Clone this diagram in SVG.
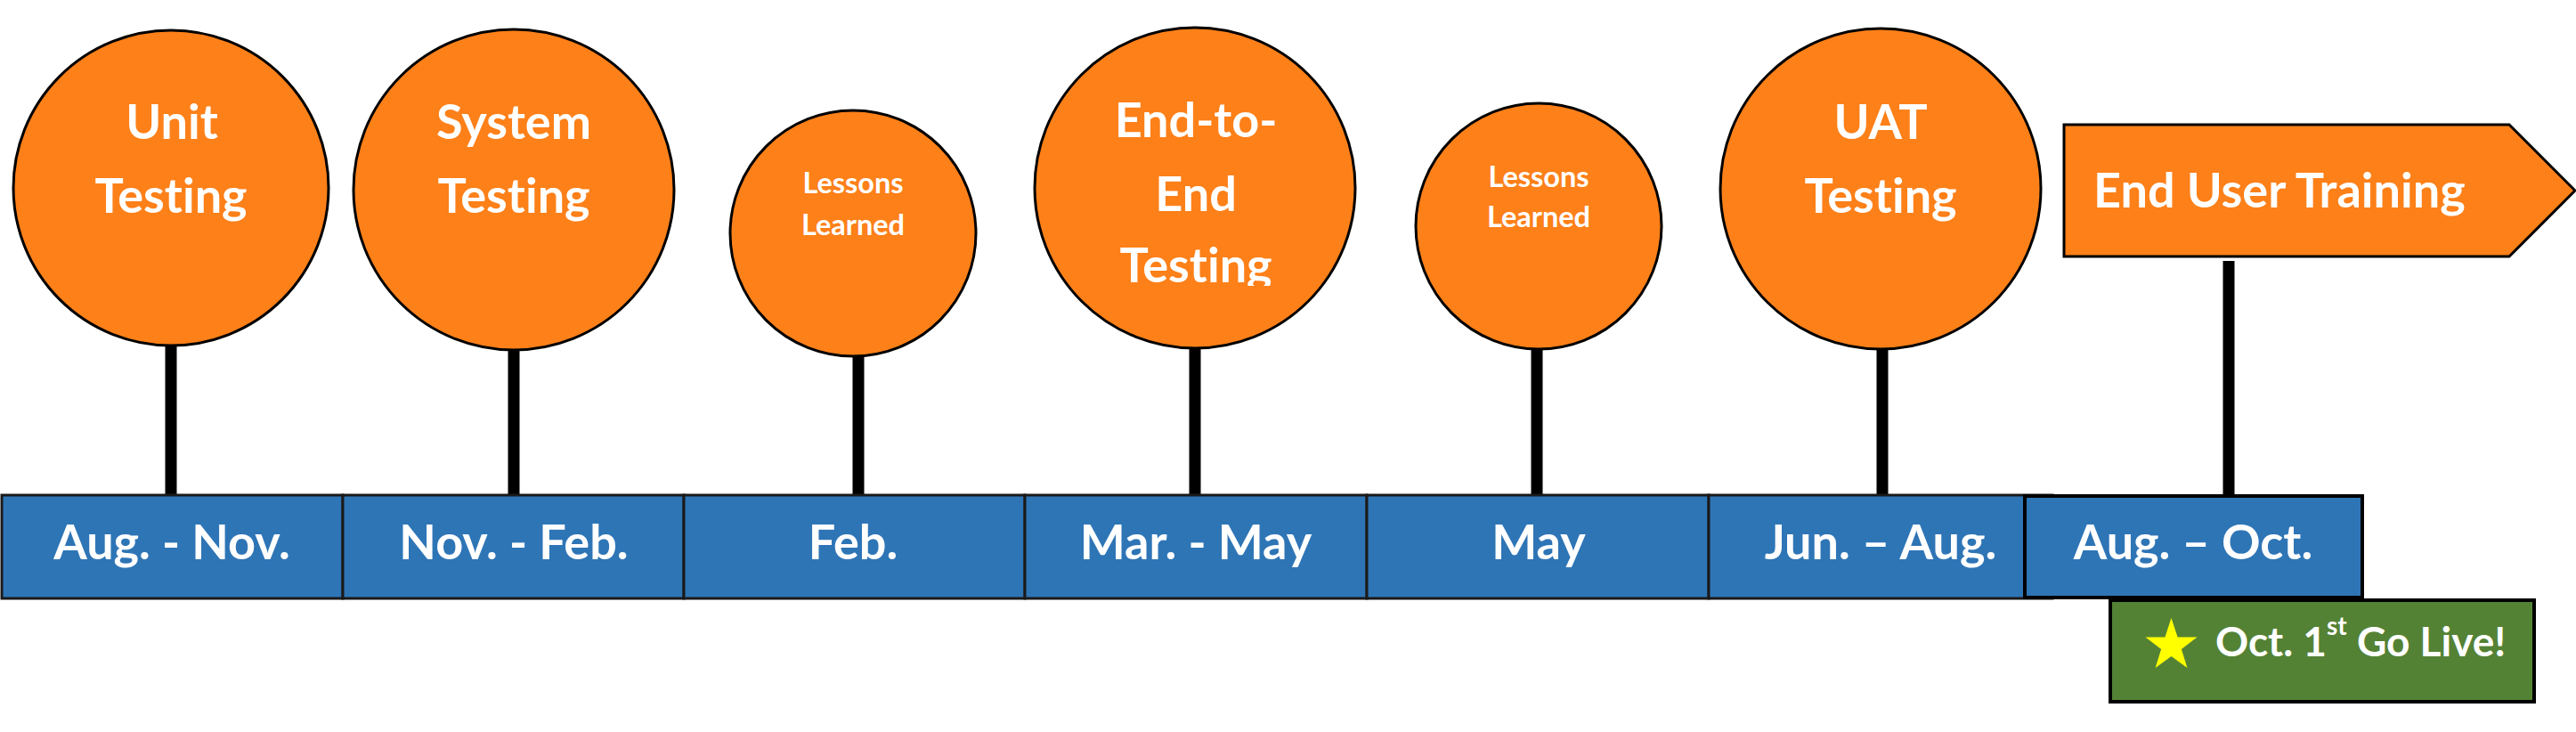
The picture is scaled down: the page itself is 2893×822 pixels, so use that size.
<svg xmlns="http://www.w3.org/2000/svg" width="2893" height="822" viewBox="0 0 2893 822">
<style>
.bub{fill:#FD8019;stroke:#000;stroke-width:3}
.box{fill:#2E75B6;stroke:#1a1a1a;stroke-width:3}
.stem{stroke:#000;stroke-width:13;fill:none}
.t{font-family:Lato,"Liberation Sans",sans-serif;font-weight:bold;fill:#fff;text-anchor:middle;font-size:54px;font-variant-ligatures:none;font-feature-settings:"liga" 0,"clig" 0,"dlig" 0}
.s{font-size:32.5px}
</style>
<defs>
<clipPath id="clipE2E"><rect x="1150" y="0" width="400" height="321"/></clipPath>
</defs>
<rect width="2893" height="822" fill="#fff"/>
<g id="connectors">
<line class="stem" x1="192" y1="385" x2="192" y2="557"/>
<line class="stem" x1="577" y1="390" x2="577" y2="557"/>
<line class="stem" x1="964" y1="397" x2="964" y2="557"/>
<line class="stem" x1="1342" y1="388" x2="1342" y2="557"/>
<line class="stem" x1="1726" y1="389" x2="1726" y2="557"/>
<line class="stem" x1="2114" y1="389" x2="2114" y2="557"/>
<line class="stem" x1="2503" y1="293" x2="2503" y2="557"/>
</g>
<g id="unit-testing">
<circle class="bub" cx="192" cy="211" r="177"/>
<text class="t" x="193" y="156">Unit</text>
<text class="t" x="192" y="239">Testing</text>
</g>
<g id="system-testing">
<circle class="bub" cx="577" cy="213" r="180"/>
<text class="t" x="577" y="156">System</text>
<text class="t" x="577" y="239">Testing</text>
</g>
<g id="lessons-1">
<circle class="bub" cx="958" cy="262" r="138"/>
<text class="t s" x="958" y="217">Lessons</text>
<text class="t s" x="958" y="264">Learned</text>
</g>
<g id="end-to-end">
<circle class="bub" cx="1342" cy="211" r="180"/>
<g clip-path="url(#clipE2E)">
<text class="t" x="1343" y="154">End-to-</text>
<text class="t" x="1343" y="237">End</text>
<text class="t" x="1343" y="317">Testing</text>
</g>
</g>
<g id="lessons-2">
<circle class="bub" cx="1728" cy="254" r="138"/>
<text class="t s" x="1728" y="210">Lessons</text>
<text class="t s" x="1728" y="255">Learned</text>
</g>
<g id="uat-testing">
<circle class="bub" cx="2112" cy="212" r="180"/>
<text class="t" x="2112" y="156">UAT</text>
<text class="t" x="2112" y="239">Testing</text>
</g>
<g id="end-user-training">
<polygon points="2318,140 2818,140 2892,214 2818,288 2318,288" fill="#FD8019" stroke="#000" stroke-width="3"/>
<text class="t" x="2351" y="233" style="text-anchor:start;font-size:54px">End User Training</text>
</g>
<g id="period-1"><rect class="box" x="2" y="556" width="383" height="116"/><text class="t" x="193" y="628">Aug. - Nov.</text></g>
<g id="period-2"><rect class="box" x="385" y="556" width="383" height="116"/><text class="t" x="577" y="628">Nov. - Feb.</text></g>
<g id="period-3"><rect class="box" x="768" y="556" width="383" height="116"/><text class="t" x="958" y="628">Feb.</text></g>
<g id="period-4"><rect class="box" x="1151" y="556" width="384" height="116"/><text class="t" x="1343" y="628">Mar. - May</text></g>
<g id="period-5"><rect class="box" x="1535" y="556" width="384" height="116"/><text class="t" x="1728" y="628">May</text></g>
<g id="period-6"><rect class="box" x="1919" y="556" width="386" height="116"/><text class="t" x="2112" y="628">Jun. – Aug.</text></g>
<g id="period-7"><rect class="box" x="2274" y="557" width="379" height="114" style="stroke:#000;stroke-width:4"/><text class="t" x="2463" y="628">Aug. – Oct.</text></g>
<g id="go-live">
<rect x="2370" y="674" width="476" height="114" fill="#548235" stroke="#000" stroke-width="4"/>
<polygon points="2438.5,694 2445.6,715.6 2467.5,715.6 2449.9,728.9 2456.4,750 2438.5,737 2420.6,750 2427.1,728.9 2409.5,715.6 2431.4,715.6" fill="#FFFF00"/>
<text class="t" x="2488" y="737" style="text-anchor:start;font-size:46px">Oct. 1<tspan font-size="28" dy="-24">st</tspan><tspan dy="24"> Go Live!</tspan></text>
</g>
</svg>
